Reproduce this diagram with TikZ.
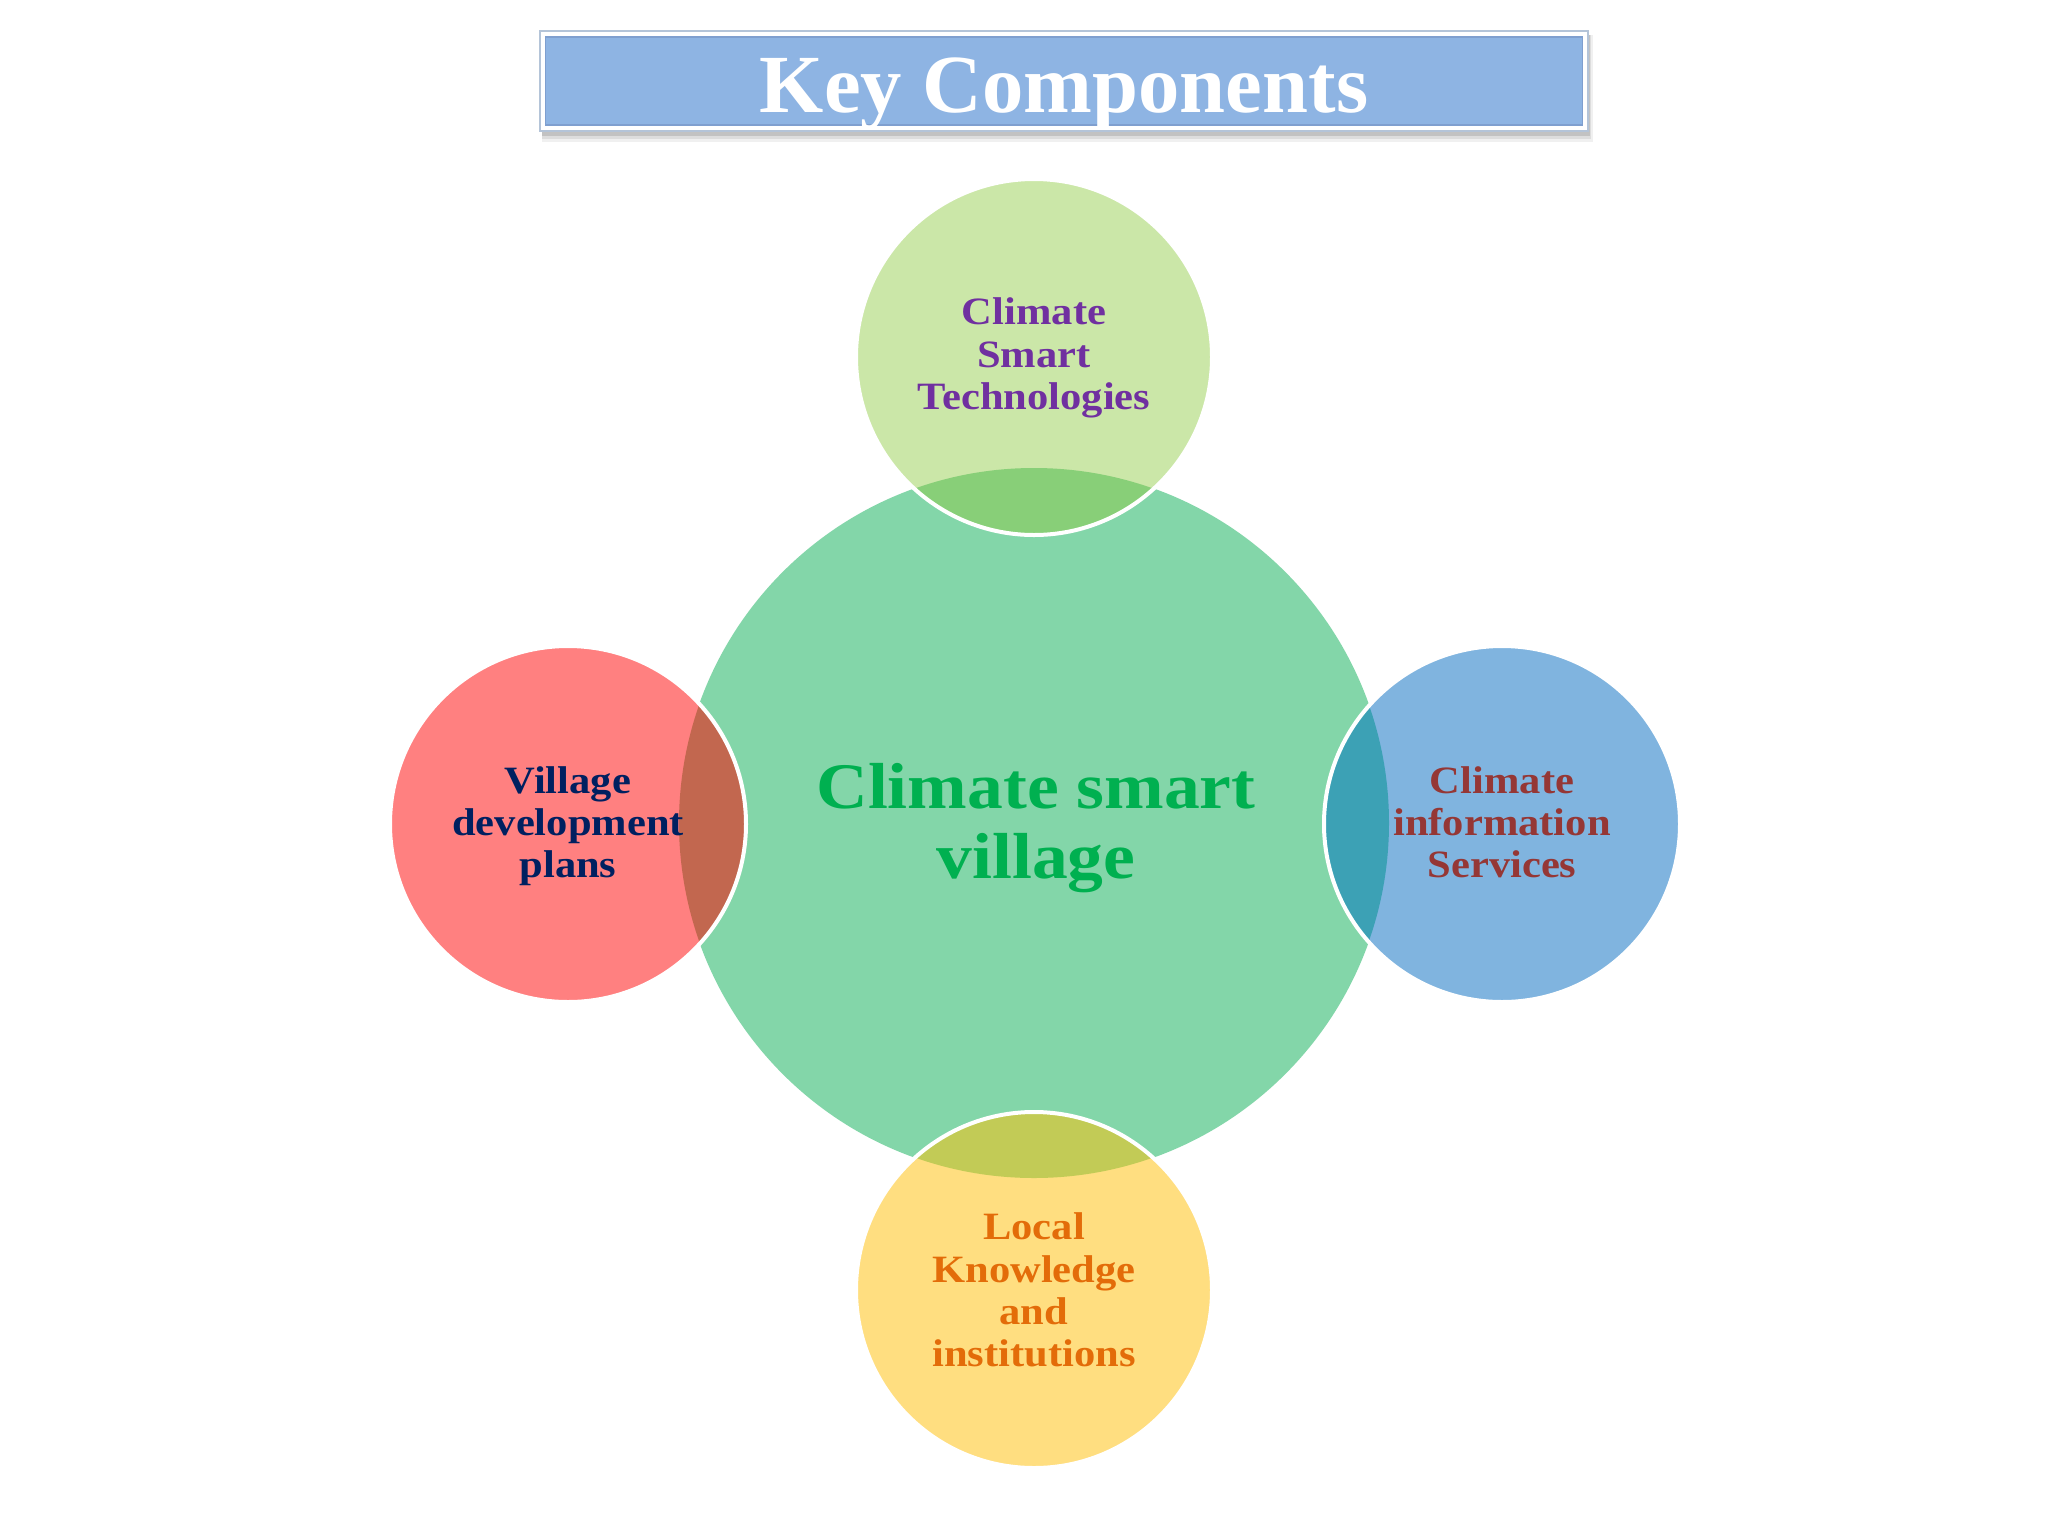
\documentclass[tikz,border=0pt]{standalone}
\usepackage{fontspec}
\setmainfont{Liberation Serif}[FakeStretch=1.1]
\newfontfamily\titlefont{Liberation Serif}
\definecolor{bigc}{HTML}{83D6A9}
\definecolor{topc}{HTML}{CBE7A8}
\definecolor{topov}{HTML}{88CF78}
\definecolor{leftc}{HTML}{FF8080}
\definecolor{leftov}{HTML}{C2674F}
\definecolor{rightc}{HTML}{80B4DF}
\definecolor{rightov}{HTML}{3CA1B5}
\definecolor{botc}{HTML}{FFDE80}
\definecolor{botov}{HTML}{C2CB56}
\definecolor{tpurple}{HTML}{7030A0}
\definecolor{tnavy}{HTML}{002060}
\definecolor{tred}{HTML}{953735}
\definecolor{torange}{HTML}{E36C09}
\definecolor{tgreen}{HTML}{00B050}
\definecolor{titleblue}{HTML}{8EB4E3}
\definecolor{titleedge}{HTML}{7F9FCF}
\definecolor{titleouter}{HTML}{B4C4D8}
\begin{document}
\begin{tikzpicture}[x=0.01cm,y=-0.01cm,
  disc/.style={circle, minimum size=#1, inner sep=0pt, outer sep=0pt},
  rim/.style={draw=white, line width=0.04cm},
  lbl/.style={align=center, inner sep=0pt, font=\bfseries\fontsize{11}{12}\selectfont}]
\useasboundingbox[fill=white] (0,0) rectangle (2048,1536);

% title box with shadow
\fill[black, opacity=0.06] (542,35) rectangle (1593,142);
\fill[black, opacity=0.08] (542,35) rectangle (1591,139);
\fill[black, opacity=0.12] (542,35) rectangle (1590,136);
\node[draw=titleouter, fill=white, line width=0.02cm, minimum width=10.48cm, minimum height=1.0cm, inner sep=0pt] (titlebox) at (1064,81) {};
\node[draw=titleedge, fill=titleblue, line width=0.015cm, minimum width=10.36cm, minimum height=0.88cm, inner sep=0pt] (titlefill) at (1064,81) {};
\node[anchor=base, text=white, inner sep=0pt, font=\titlefont\bfseries\fontsize{23.5}{28}\selectfont] (title) at (1064,112) {Key Components};

% main circle
\node[disc=7.1cm, fill=bigc] (big) at (1034,823) {};

% satellite circles
\node[disc=3.56cm, fill=topc] (top) at (1034,357) {};
\node[disc=3.56cm, fill=leftc] (left) at (568,824) {};
\node[disc=3.56cm, fill=rightc] (right) at (1502,824) {};
\node[disc=3.56cm, fill=botc] (bot) at (1034,1290) {};

% overlaps
\begin{scope}
  \clip (big.center) circle (355);
  \fill[topov] (top.center) circle (178);
  \fill[leftov] (left.center) circle (178);
  \fill[rightov] (right.center) circle (178);
  \fill[botov] (bot.center) circle (178);
\end{scope}

% white rims
\draw[rim] (top.center) circle (178);
\draw[rim] (left.center) circle (178);
\draw[rim] (right.center) circle (178);
\draw[rim] (bot.center) circle (178);

% labels
\node[align=center, inner sep=0pt, text=tgreen, font=\bfseries\fontsize{18.5}{20}\selectfont] (bigtext) at (1036,828) {Climate smart\\village};
\node[lbl, text=tpurple] (toptext) at (1034,358) {Climate\\Smart\\Technologies};
\node[lbl, text=tnavy] (lefttext) at (568,826) {Village\\development\\plans};
\node[lbl, text=tred] (righttext) at (1502,822) {Climate\\information\\Services};
\node[lbl, text=torange] (bottext) at (1034,1290) {Local\\Knowledge\\and\\institutions};
\end{tikzpicture}
\end{document}
